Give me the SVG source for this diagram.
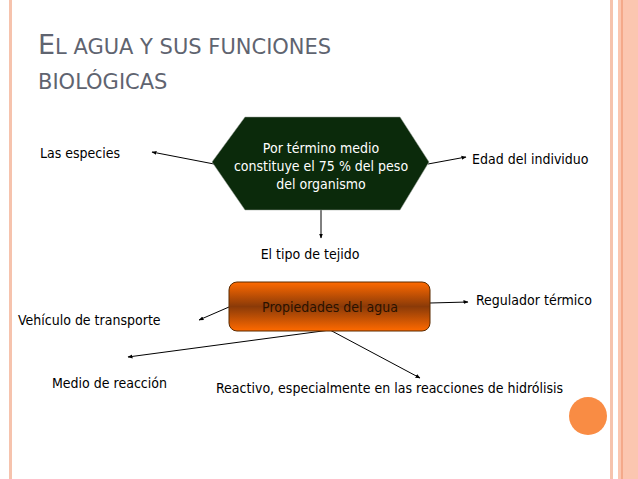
<svg xmlns="http://www.w3.org/2000/svg" width="638" height="479" viewBox="0 0 638 479">
<defs>
<style>
text{font-family:"DejaVu Sans Condensed","DejaVu Sans",sans-serif;font-size:14px;fill:#000}
text.t{font-family:"DejaVu Sans",sans-serif;fill:#5f6470;font-size:21px}
.c{stroke:#000;stroke-width:1;fill:none;marker-end:url(#a)}
</style>
<marker id="a" viewBox="0 0 10 10" refX="9" refY="5" markerWidth="5" markerHeight="5" orient="auto"><path d="M0,1L10,5L0,9z" fill="#000"/></marker>
<linearGradient id="g" x1="0" y1="0" x2="0" y2="1"><stop offset="0" stop-color="#ff6a00"/><stop offset="0.5" stop-color="#8a3a08"/><stop offset="1" stop-color="#ff6a00"/></linearGradient>
</defs>
<rect width="638" height="479" fill="#fff"/>
<rect x="9" y="0" width="3" height="479" fill="#f6c3ad"/>
<rect x="610" y="0" width="3" height="479" fill="#f6c3ad"/>
<rect x="618" y="0" width="20" height="479" fill="#fbc6b0"/>
<rect x="621" y="0" width="2" height="479" fill="#f4a98a"/>
<text class="t" x="38" y="54"><tspan style="font-size:27px">E</tspan>L AGUA Y SUS FUNCIONES</text>
<text class="t" x="38" y="89">BIOLÓGICAS</text>
<g id="conn">
<line class="c" x1="214" y1="164" x2="152" y2="152"/>
<line class="c" x1="428" y1="164" x2="466" y2="157"/>
<line class="c" x1="321" y1="210" x2="321" y2="238"/>
<line class="c" x1="430" y1="303" x2="468" y2="302"/>
<line class="c" x1="229" y1="307" x2="199" y2="320"/>
<line class="c" x1="330" y1="330" x2="128" y2="357"/>
<line class="c" x1="330" y1="330" x2="420" y2="378"/>
</g>
<g id="hex">
<polygon points="212,162 245,117 400,117 429,162 400,210 245,210" fill="#0b2a0b" stroke="#9aa09a" stroke-width="0.5"/>
<text x="321" y="153" text-anchor="middle" style="fill:#fff">Por término medio</text>
<text x="321" y="171" text-anchor="middle" style="fill:#fff">constituye el 75 % del peso</text>
<text x="321" y="189" text-anchor="middle" style="fill:#fff">del organismo</text>
</g>
<g id="n1"><text x="40" y="158">Las especies</text></g>
<g id="n2"><text x="472" y="164">Edad del individuo</text></g>
<g id="n3"><text x="310" y="259" text-anchor="middle">El tipo de tejido</text></g>
<g id="box">
<rect x="229" y="282" width="201" height="49" rx="8" fill="url(#g)" stroke="#5a2a00"/>
<text x="330" y="312" text-anchor="middle" style="fill:#2a1200">Propiedades del agua</text>
</g>
<g id="n4"><text x="476" y="305">Regulador térmico</text></g>
<g id="n5"><text x="18" y="325">Vehículo de transporte</text></g>
<g id="n6"><text x="52" y="388">Medio de reacción</text></g>
<g id="n7"><text x="216" y="393">Reactivo, especialmente en las reacciones de hidrólisis</text></g>
<circle cx="588" cy="416" r="19" fill="#f98c44"/>
</svg>
